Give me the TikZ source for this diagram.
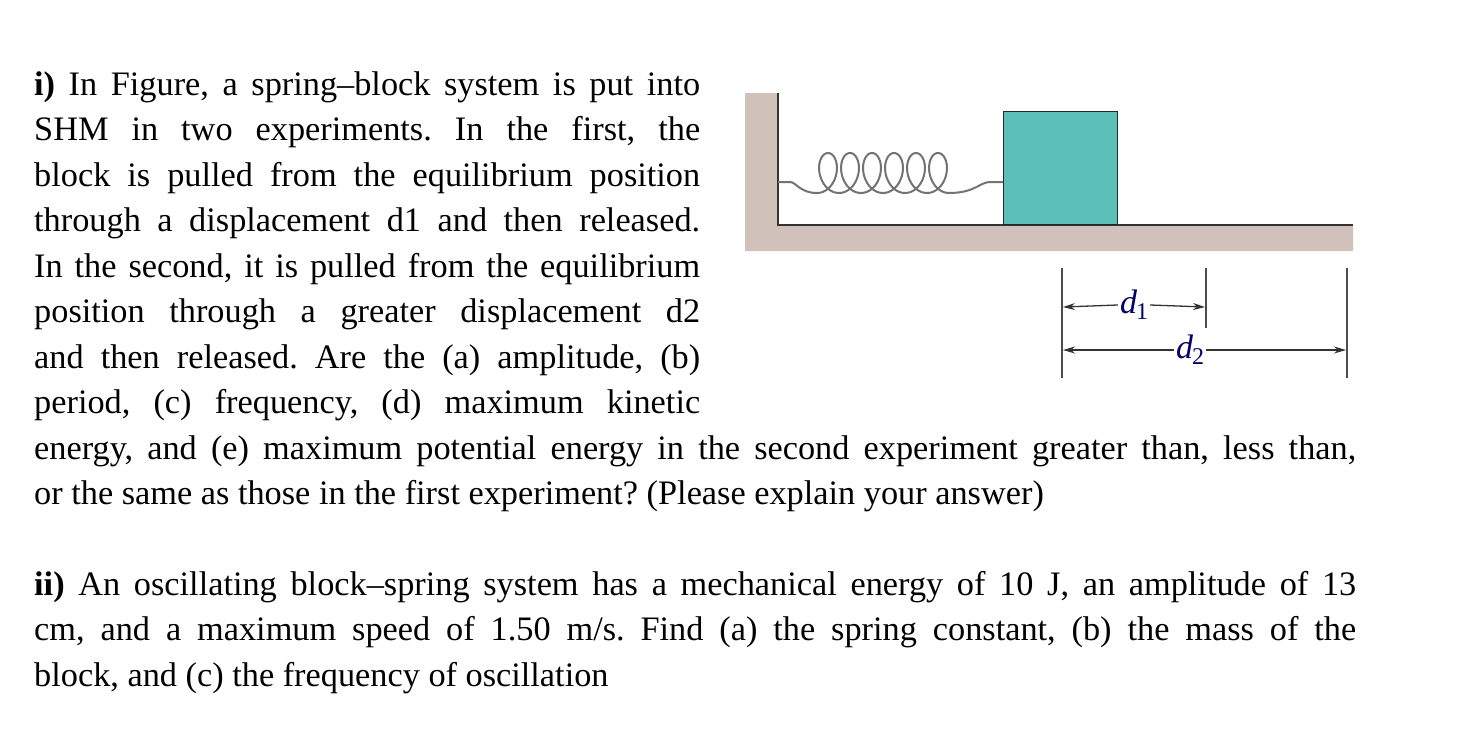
\documentclass[tikz,border=0pt]{standalone}
\usepackage{fontspec}
\setmainfont{Liberation Serif}
\usetikzlibrary{arrows.meta}
\definecolor{blockc}{RGB}{92,192,185}
\definecolor{groundc}{RGB}{208,194,186}
\begin{document}
\frenchspacing
\begin{tikzpicture}[x=1pt,y=-1pt,
  txt/.style={anchor=north west,inner sep=0pt,align=justify,font=\fontsize{34.3}{45.5}\selectfont\frenchspacing},
  dim/.style={draw=black!70,line width=1.3pt},
  spr/.style={black!55,line width=2pt},
  dlab/.style={font=\fontsize{34}{34}\selectfont\itshape,text=blue!40!black,inner sep=2pt},
  arr/.style={-{Stealth[length=12pt,width=7pt]},line width=1.3pt,draw=black!80}]
\useasboundingbox (0,0) rectangle (1458,736);
\fill[white] (0,0) rectangle (1458,736);
\node[txt,text width=666pt] (t1) at (34,71) {\textbf{i)} In Figure, a spring--block system is put into\linebreak
SHM in two experiments. In the first, the\linebreak
block is pulled from the equilibrium position\linebreak
through a displacement d1 and then released.\linebreak
In the second, it is pulled from the equilibrium\linebreak
position through a greater displacement d2\linebreak
and then released. Are the (a) amplitude, (b)\linebreak
period, (c) frequency, (d) maximum kinetic\linebreak};
\node[txt,text width=1322pt] (t1b) at (34,435) {energy, and (e) maximum potential energy in the second experiment greater than, less than,\linebreak
or the same as those in the first experiment? (Please explain your answer)};
\node[txt,text width=1322pt] (t2) at (34,571) {\textbf{ii)} An oscillating block--spring system has a mechanical energy of 10 J, an amplitude of 13\linebreak
cm, and a maximum speed of 1.50 m/s. Find (a) the spring constant, (b) the mass of the\linebreak
block, and (c) the frequency of oscillation};
% ground and wall
\fill[groundc] (745,93) -- (778,93) -- (778,225) -- (1353,225) -- (1353,251) -- (745,251) -- cycle;
\draw[black!80,line width=1.3pt] (778,93) -- (778,225) -- (1353,225);
% block
\node[draw=black!85,line width=1.3pt,fill=blockc,minimum width=114pt,minimum height=113pt,inner sep=0pt,anchor=south west] (blk) at (1003,225) {};
% spring
\coordinate (s0) at (778,182);
\coordinate (s1) at (1003,182);
\draw[spr] (s0) -- (790,182) .. controls (796,182) and (800,193) .. (817,193);
\draw[spr,domain=0.5:6.5,samples=500,smooth,variable=\x] plot ({806+22*\x-14*sin(360*\x)}, {173-20*cos(360*\x)});
\draw[spr] (949,193) .. controls (975,193) and (980,182) .. (990,182) -- (s1);
% dimensions
\coordinate (a0) at (1062,268); \coordinate (a1) at (1062,378);
\coordinate (b0) at (1206,268); \coordinate (b1) at (1206,328);
\coordinate (c0) at (1347,268); \coordinate (c1) at (1347,378);
\draw[dim] (a0) -- (a1); \draw[dim] (b0) -- (b1); \draw[dim] (c0) -- (c1);
\node[dlab] (d1) at (1134,305) {d\kern-1pt\raisebox{-6pt}{\upshape\fontsize{24}{24}\selectfont 1}};
\node[dlab] (d2) at (1190,350) {d\kern-1pt\raisebox{-6pt}{\upshape\fontsize{24}{24}\selectfont 2}};
\draw[arr] (d1.west) -- (1063,307);
\draw[arr] (d1.east) -- (1205,307);
\draw[arr] (d2.west) -- (1063,350);
\draw[arr] (d2.east) -- (1346,350);
\end{tikzpicture}
\end{document}
